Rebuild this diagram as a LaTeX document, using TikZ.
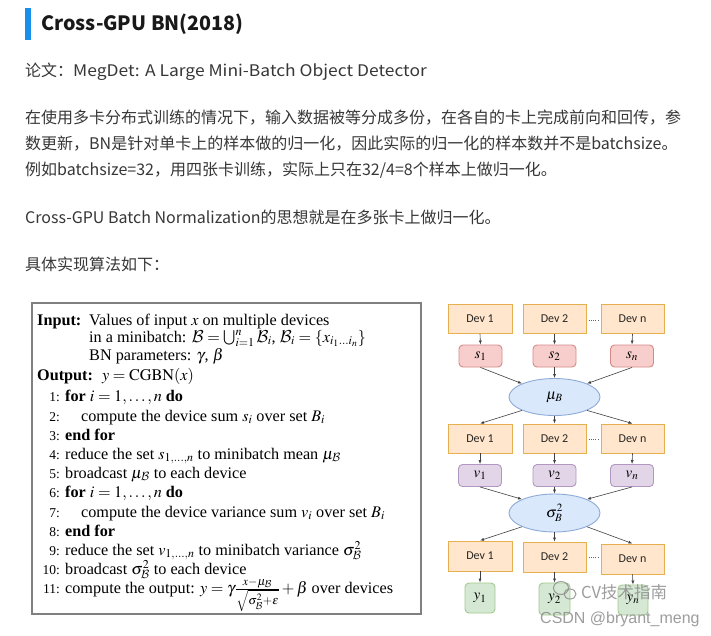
\documentclass[tikz,border=0pt]{standalone}
\usepackage{mathptmx}
\DeclareMathAlphabet{\mathcal}{OMS}{cmsy}{m}{n}
\usepackage[no-math]{fontspec}
\setmainfont{Liberation Serif}
\newfontfamily\cjkfont{Noto Sans CJK SC}
\newfontfamily\calfont{Carlito}
\newfontfamily\wmfont{Liberation Sans}
\usetikzlibrary{arrows.meta,shapes.geometric}
\definecolor{barblue}{RGB}{23,143,235}
\definecolor{devfill}{HTML}{FFE6CC}
\definecolor{devdraw}{HTML}{E6B050}
\definecolor{sfill}{HTML}{F8CECC}
\definecolor{sdraw}{HTML}{D48A88}
\definecolor{efill}{HTML}{DAE8FC}
\definecolor{edraw}{HTML}{8EABD8}
\definecolor{vfill}{HTML}{E1D5E7}
\definecolor{vdraw}{HTML}{B298C0}
\definecolor{yfill}{HTML}{D5E8D4}
\definecolor{ydraw}{HTML}{A2C98E}
\definecolor{bodytext}{RGB}{55,55,55}
\tikzset{
  pg/.style={anchor=west, inner sep=0pt, text=bodytext, font=\cjkfont\fontsize{16}{20}\selectfont},
  alg/.style={anchor=base west, inner sep=0pt, font=\fontsize{16.2}{19}\selectfont},
  num/.style={anchor=base east, inner sep=0pt, font=\fontsize{13.5}{15}\selectfont},
  dev/.style={draw=devdraw, fill=devfill, line width=0.9pt, minimum width=63pt, minimum height=29pt, inner sep=0pt, text=black!85, font=\calfont\fontsize{12}{14}\selectfont},
  rbox/.style={rounded corners=4pt, line width=0.9pt, inner sep=0pt, minimum width=43pt, minimum height=22pt, font=\fontsize{15}{18}\selectfont},
  sbox/.style={rbox, draw=sdraw, fill=sfill},
  vbox/.style={rbox, draw=vdraw, fill=vfill},
  ybox/.style={rbox, draw=ydraw, fill=yfill, minimum width=30pt, minimum height=30pt},
  ell/.style={ellipse, draw=edraw, fill=efill, line width=0.9pt, minimum width=91pt, minimum height=37pt, inner sep=0pt, font=\fontsize{15}{18}\selectfont},
  arr/.style={draw=black!75, line width=0.6pt, -{Latex[length=4pt,width=3pt]}},
  wm/.style={inner sep=0pt, text=black!45, opacity=0.85}
}
\begin{document}
\begin{tikzpicture}[x=1pt,y=-1pt]
\useasboundingbox (0,0) rectangle (711,635);
\fill[white] (0,0) rectangle (711,635);
% header
\fill[barblue] (25,8) rectangle (31,40);
\node[anchor=west, inner sep=0pt, text=black!90, font=\cjkfont\bfseries\fontsize{19.7}{24}\selectfont] (title) at (41,24) {Cross-GPU BN(2018)};
\node[pg] (paper) at (25,72) {论文：\scalebox{1.09}[1]{MegDet: A Large Mini-Batch Object Detector}};
\node[pg] (p1) at (25,118) {在使用多卡分布式训练的情况下，输入数据被等分成多份，在各自的卡上完成前向和回传，参};
\node[pg] (p2) at (25,144) {数更新，BN是针对单卡上的样本做的归一化，因此实际的归一化的样本数并不是batchsize。};
\node[pg] (p3) at (25,170) {例如batchsize=32，用四张卡训练，实际上只在32/4=8个样本上做归一化。};
\node[pg] (p4) at (25,217) {Cross-GPU Batch Normalization的思想就是在多张卡上做归一化。};
\node[pg] (p5) at (25,264) {具体实现算法如下：};
% algorithm box
\node[draw=black!50, line width=1.2pt, minimum width=389pt, minimum height=311pt, inner sep=0pt] (algbox) at (226.5,458.5) {};
\node[alg] (in) at (37,325) {\textbf{Input:}};
\node[alg] (in1) at (89,325) {Values of input $x$ on multiple devices};
\node[alg] (in2) at (89,342) {in a minibatch: $\mathcal{B}=\bigcup_{i=1}^{n}\mathcal{B}_i$, $\mathcal{B}_i=\{x_{i_1\dots i_n}\}$};
\node[alg] (in3) at (89,360) {BN parameters: $\gamma$, $\beta$};
\node[alg] (out) at (37,380) {\textbf{Output:}};
\node[alg] (out1) at (102,380) {$y=\mathrm{CGBN}(x)$};
\node[num] (n1) at (60,401) {1:};
\node[alg] (l1) at (65,401) {\textbf{for} $i=1,\dots,n$ \textbf{do}};
\node[num] (n2) at (60,421) {2:};
\node[alg] (l2) at (81,421) {compute the device sum $s_i$ over set $B_i$};
\node[num] (n3) at (60,440) {3:};
\node[alg] (l3) at (65,440) {\textbf{end for}};
\node[num] (n4) at (60,459) {4:};
\node[alg] (l4) at (65,459) {reduce the set $s_{1,\dots,n}$ to minibatch mean $\mu_{\mathcal{B}}$};
\node[num] (n5) at (60,478) {5:};
\node[alg] (l5) at (65,478) {broadcast $\mu_{\mathcal{B}}$ to each device};
\node[num] (n6) at (60,497) {6:};
\node[alg] (l6) at (65,497) {\textbf{for} $i=1,\dots,n$ \textbf{do}};
\node[num] (n7) at (60,517) {7:};
\node[alg] (l7) at (81,517) {compute the device variance sum $v_i$ over set $B_i$};
\node[num] (n8) at (60,536) {8:};
\node[alg] (l8) at (65,536) {\textbf{end for}};
\node[num] (n9) at (60,555) {9:};
\node[alg] (l9) at (65,555) {reduce the set $v_{1,\dots,n}$ to minibatch variance $\sigma^2_{\mathcal{B}}$};
\node[num] (n10) at (60,574) {10:};
\node[alg] (l10) at (65,574) {broadcast $\sigma^2_{\mathcal{B}}$ to each device};
\node[num] (n11) at (60,593) {11:};
\node[alg] (l11) at (65,593) {compute the output: $y=\gamma\frac{x-\mu_{\mathcal{B}}}{\sqrt{\sigma^2_{\mathcal{B}}+\epsilon}}+\beta$ over devices};
% diagram row A
\node[dev, minimum width=64pt] (d1a) at (480,319) {Dev 1};
\node[dev] (d2a) at (554.5,319) {Dev 2};
\node[dev] (dna) at (632.5,319) {Dev n};
\draw[black!60, line width=1pt, dash pattern=on 1pt off 1.3pt] (588.5,320) -- (598,320);
\node[sbox] (s1) at (480.5,356) {$s_1$};
\node[sbox] (s2) at (554.5,356) {$s_2$};
\node[sbox] (sn) at (632,356) {$s_n$};
\node[ell] (mu) at (554.5,397) {$\mu_{B}$};
% row B
\node[dev, minimum width=64pt] (d1b) at (480,438.5) {Dev 1};
\node[dev] (d2b) at (554.5,438.5) {Dev 2};
\node[dev] (dnb) at (632.5,438.5) {Dev n};
\draw[black!60, line width=1pt, dash pattern=on 1pt off 1.3pt] (588.5,439) -- (598,439);
\node[vbox] (v1) at (480,475.5) {$v_1$};
\node[vbox] (v2) at (554.5,475.5) {$v_2$};
\node[vbox] (vn) at (632,475.5) {$v_n$};
\node[ell, minimum height=38pt] (sg) at (554.5,513) {$\sigma^2_{B}$};
% row C
\node[dev, minimum width=64pt, minimum height=30pt] (d1c) at (480,556) {Dev 1};
\node[dev, minimum height=30pt] (d2c) at (554.5,557) {Dev 2};
\node[dev, minimum height=30pt] (dnc) at (632.5,559) {Dev n};
\draw[black!60, line width=1pt, dash pattern=on 1pt off 1.3pt] (588.5,557) -- (598,557);
\node[ybox] (y1) at (480,598) {$y_1$};
\node[ybox, minimum width=31pt, minimum height=32pt] (y2) at (554.5,599) {$y_2$};
\node[ybox] (yn) at (633,600) {$y_n$};
% arrows
\draw[arr] (d1a.south) -- (s1.north);
\draw[arr] (d2a.south) -- (s2.north);
\draw[arr] (dna.south) -- (sn.north);
\draw[arr] (s1.south) -- (mu.north west);
\draw[arr] (s2.south) -- (mu.north);
\draw[arr] (sn.south) -- (mu.north east);
\draw[arr] (mu.south west) -- (d1b.north);
\draw[arr] (mu.south) -- (d2b.north);
\draw[arr] (mu.south east) -- (dnb.north);
\draw[arr] (d1b.south) -- (v1.north);
\draw[arr] (d2b.south) -- (v2.north);
\draw[arr] (dnb.south) -- (vn.north);
\draw[arr] (v1.south) -- (sg.north west);
\draw[arr] (v2.south) -- (sg.north);
\draw[arr] (vn.south) -- (sg.north east);
\draw[arr] (sg.south west) -- (d1c.north);
\draw[arr] (sg.south) -- (d2c.north);
\draw[arr] (sg.south east) -- (dnc.north);
\draw[arr] (d1c.south) -- (y1.north);
\draw[arr] (d2c.south) -- (y2.north);
\draw[arr] (dnc.south) -- (yn.north);
% watermark
\begin{scope}[black!45, opacity=0.85, line width=1pt]
\draw (561,588) ellipse [x radius=7.5pt, y radius=6.5pt];
\draw (570,594) ellipse [x radius=6pt, y radius=5pt];
\end{scope}
\node[wm, anchor=west, font=\cjkfont\fontsize{16.5}{20}\selectfont] (wm1) at (581,592) {CV技术指南};
\node[wm, anchor=west, font=\wmfont\fontsize{16}{19}\selectfont] (wm2) at (540,619) {CSDN @bryant\_meng};
\end{tikzpicture}
\end{document}
